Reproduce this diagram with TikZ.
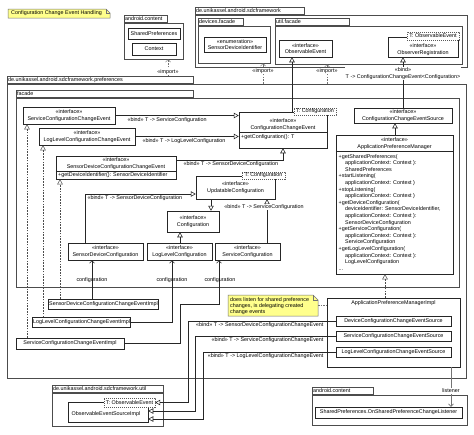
\documentclass[tikz,border=0pt]{standalone}
\usepackage{fontspec}
\setmainfont{Liberation Sans}
\usetikzlibrary{arrows.meta,shadows}
\definecolor{noteyellow}{RGB}{255,255,140}
\begin{document}
\begin{tikzpicture}[x=1pt,y=-1pt,
  font=\fontsize{5.4}{6.8}\selectfont,
  pkg/.style={draw=black!70,line width=0.5pt,fill=white,inner sep=0pt},
  pkgtab/.style={draw=black!70,line width=0.5pt,fill=white,inner sep=1.2pt,anchor=south west,minimum height=7pt,text width=#1,align=left},
  cls/.style={draw=black!85,line width=0.5pt,fill=white,inner sep=0.5pt,align=center,drop shadow={shadow xshift=0.8pt,shadow yshift=-0.8pt,fill=black!30,opacity=1}},
  tmpl/.style={draw=black!65,line width=0.4pt,dash pattern=on 1.2pt off 0.8pt,fill=white,inner sep=0.6pt},
  txt/.style={inner sep=0pt,align=center},
  lbl/.style={inner sep=0.3pt},
  wlbl/.style={inner sep=0.6pt,fill=white,align=center},
  gen/.style={draw=black!85,line width=0.55pt,-{Triangle[open,length=5pt,width=5.5pt]}},
  real/.style={draw=black!70,line width=0.5pt,dash pattern=on 1.6pt off 1.2pt,-{Triangle[open,length=5pt,width=5.5pt]}},
  dep/.style={draw=black!55,line width=0.5pt,dash pattern=on 1.6pt off 1.2pt,-{Straight Barb[length=2.5pt,width=5pt]}},
  assoc/.style={draw=black!85,line width=0.55pt,-{Straight Barb[length=2.5pt,width=5pt]}},
  notebox/.style={draw=black!55,line width=0.5pt,fill=noteyellow},
  notelink/.style={draw=black!55,line width=0.5pt,dash pattern=on 1.5pt off 1.2pt},
]
\useasboundingbox (0,0) rectangle (474,434);

% ---------- note 1
\path[notebox] (8,9) -- (106,9) -- (110,13) -- (110,18) -- (8,18) -- cycle;
\draw[black!55,line width=0.5pt] (106,9) -- (106,13) -- (110,13);
\node[txt,anchor=west] (note1) at (11,13.5) {Configuration Change Event Handling};

% ---------- android.content (top)
\node[pkg,minimum width=59pt,minimum height=36pt] (pAnd) at (153.5,41) {};
\node[pkgtab=40.6pt] (pAndTab) at (pAnd.north west) {android.content};
\node[cls,minimum width=52pt,minimum height=11pt] (cShared) at (154,33.5) {SharedPreferences};
\node[cls,minimum width=44pt,minimum height=12pt] (cContext) at (154,49) {Context};

% ---------- sdcframework
\node[pkg,minimum width=272pt,minimum height=52pt] (pSdc) at (331,41) {};
\node[pkgtab=106.6pt] (pSdcTab) at (pSdc.north west) {de.unikassel.android.sdcframework};
\node[pkg,minimum width=72pt,minimum height=37pt] (pDev) at (234,44.5) {};
\node[pkgtab=42.6pt] (pDevTab) at (pDev.north west) {devices.facade};
\node[cls,minimum width=62pt,minimum height=15pt] (cSDI) at (235,44.5) {«enumeration»\\SensorDeviceIdentifier};
\node[pkg,minimum width=187pt,minimum height=38pt] (pUtil) at (368.5,45) {};
\node[pkgtab=71.6pt] (pUtilTab) at (pUtil.north west) {util.facade};
\node[cls,minimum width=53pt,minimum height=17pt] (cObsEv) at (305.5,48.5) {«interface»\\ObservableEvent};
\node[cls,minimum width=70pt,minimum height=20pt] (cObsReg) at (423,47) {};
\node[txt] (tObsReg) at (423,49.5) {«interface»\\ObserverRegistration};
\node[tmpl,minimum width=52pt,minimum height=8pt] (tplObsReg) at (433,36) {T: ObservableEvent};

% ---------- preferences
\node[pkg,minimum width=459pt,minimum height=294pt] (pPref) at (236.5,231) {};
\node[pkgtab=183.6pt] (pPrefTab) at (pPref.north west) {de.unikassel.android.sdcframework.preferences};
\node[pkg,minimum width=443pt,minimum height=189pt] (pFac) at (237.5,192.5) {};
\node[pkgtab=174.6pt] (pFacTab) at (pFac.north west) {facade};

\node[cls,minimum width=92pt,minimum height=17pt] (cSCCE) at (69,115.5) {«interface»\\ServiceConfigurationChangeEvent};
\node[cls,minimum width=96pt,minimum height=17pt] (cLCCE) at (87,136.5) {«interface»\\LogLevelConfigurationChangeEvent};
\node[cls,minimum width=120pt,minimum height=23pt] (cSDCCE) at (116,167.5) {};
\node[txt] (tSDCCE) at (116,164) {«interface»\\SensorDeviceConfigurationChangeEvent};
\draw[black!85,line width=0.5pt] (cSDCCE.west |- 0,171) -- (cSDCCE.east |- 0,171);
\node[txt,anchor=west] (oSDCCE) at (58,175.3) {+getDeviceIdentifier(): SensorDeviceIdentifier};

\node[cls,minimum width=88pt,minimum height=36pt] (cCCE) at (283,130) {};
\node[txt] (tCCE) at (283,125) {«interface»\\ConfigurationChangeEvent};
\draw[black!85,line width=0.5pt] (cCCE.west |- 0,132) -- (cCCE.east |- 0,132);
\node[txt,anchor=west] (oCCE) at (241,137.5) {+getConfiguration(): T};
\node[tmpl,minimum width=42pt,minimum height=7pt] (tplCCE) at (315,111.5) {T: Configuration};

\node[cls,minimum width=98pt,minimum height=15pt] (cCCES) at (403,115.5) {«interface»\\ConfigurationChangeEventSource};

\node[cls,minimum width=117pt,minimum height=139pt] (cAPM) at (394.5,204.5) {};
\node[txt] (tAPM) at (394.5,144) {«interface»\\ApplicationPreferenceManager};
\draw[black!85,line width=0.5pt] (cAPM.west |- 0,151.5) -- (cAPM.east |- 0,151.5);
\node[txt,anchor=north west,align=left,font=\fontsize{5.4}{6.6}\selectfont] (lAPM) at (338.5,154) {+getSharedPreferences(\\
\hspace*{6.5pt}applicationContext: Context ):\\
\hspace*{6.5pt}SharedPreferences\\
+startListening(\\
\hspace*{6.5pt}applicationContext: Context )\\
+stopListening(\\
\hspace*{6.5pt}applicationContext: Context )\\
+getDeviceConfiguration(\\
\hspace*{6.5pt}deviceIdentifier: SensorDeviceIdentifier,\\
\hspace*{6.5pt}applicationContext: Context ):\\
\hspace*{6.5pt}SensorDeviceConfiguration\\
+getServiceConfiguration(\\
\hspace*{6.5pt}applicationContext: Context ):\\
\hspace*{6.5pt}ServiceConfiguration\\
+getLogLevelConfiguration(\\
\hspace*{6.5pt}applicationContext: Context ):\\
\hspace*{6.5pt}LogLevelConfiguration\\
...};

\node[cls,minimum width=79pt,minimum height=23pt] (cUpd) at (235.5,187.5) {«interface»\\UpdatableConfiguration};
\node[tmpl,minimum width=43pt,minimum height=7pt] (tplUpd) at (263.5,175.5) {T: Configuration};
\node[cls,minimum width=52pt,minimum height=21pt] (cConf) at (193,221.5) {«interface»\\Configuration};
\node[cls,minimum width=75pt,minimum height=17pt] (cSDC) at (105.5,251.5) {«interface»\\SensorDeviceConfiguration};
\node[cls,minimum width=65pt,minimum height=17pt] (cLLC) at (179.5,251.5) {«interface»\\LogLevelConfiguration};
\node[cls,minimum width=65pt,minimum height=17pt] (cSC) at (247.5,251.5) {«interface»\\ServiceConfiguration};

\node[cls,minimum width=107pt,minimum height=10pt] (cSDImpl) at (103.5,304) {SensorDeviceConfigurationChangeEventImpl};
\node[cls,minimum width=97pt,minimum height=10pt] (cLLImpl) at (81.5,322.5) {LogLevelConfigurationChangeEventImpl};
\node[cls,minimum width=108pt,minimum height=11pt] (cSCImpl) at (70,343.5) {ServiceConfigurationChangeEventImpl};

\node[cls,minimum width=133pt,minimum height=69pt] (cAPMImpl) at (393.5,332.5) {};
\node[txt] (tAPMImpl) at (393.5,303.5) {ApplicationPreferenceManagerImpl};
\node[cls,minimum width=115pt,minimum height=10pt] (cDS) at (393.5,321) {DeviceConfigurationChangeEventSource};
\node[cls,minimum width=115pt,minimum height=10pt] (cSS) at (393.5,336) {ServiceConfigurationChangeEventSource};
\node[cls,minimum width=115pt,minimum height=10pt] (cLS) at (393.5,352) {LogLevelConfigurationChangeEventSource};

% ---------- note 2
\path[notebox] (228,295) -- (313,295) -- (318,300) -- (318,316) -- (228,316) -- cycle;
\draw[black!55,line width=0.5pt] (313,295) -- (313,300) -- (318,300);
\node[txt,anchor=north west,align=left,font=\fontsize{5.4}{6.2}\selectfont] (note2) at (230,297) {does listen for shared preference\\changes, is delegating created\\change events};

% ---------- util (bottom)
\node[pkg,minimum width=111pt,minimum height=33pt] (pUtil2) at (107.5,409.5) {};
\node[pkgtab=108.6pt] (pUtil2Tab) at (pUtil2.north west) {de.unikassel.android.sdcframework.util};
\node[cls,minimum width=80pt,minimum height=20pt] (cOESI) at (108,412) {};
\node[txt] (tOESI) at (106,414) {ObservableEventSourceImpl};
\node[tmpl,minimum width=51pt,minimum height=9pt] (tplOESI) at (129.5,402.5) {T: ObservableEvent};

% ---------- android.content (bottom)
\node[pkg,minimum width=155pt,minimum height=30pt] (pAnd2) at (389.5,410) {};
\node[pkgtab=58.6pt] (pAnd2Tab) at (pAnd2.north west) {android.content};
\node[cls,minimum width=147pt,minimum height=11pt] (cListener) at (388.5,412.5) {SharedPreferences.OnSharedPreferenceChangeListener};

% ---------- helper coordinates
\coordinate (xA) at (168,0);
\coordinate (xB) at (263,0);
\coordinate (xC) at (327,0);
\coordinate (xD) at (292,0);
\coordinate (xF) at (283,0);
\coordinate (xG) at (85,0);
\coordinate (xI) at (267,0);
\coordinate (xJ) at (211,0);
\coordinate (xK) at (180,0);
\coordinate (xL) at (395,0);
\coordinate (xM) at (385,0);
\coordinate (xN) at (27,0);
\coordinate (xO) at (43,0);
\coordinate (xP) at (60,0);
\coordinate (xQ) at (92,0);
\coordinate (xR) at (172,0);
\coordinate (cornS) at (180,304);
\coordinate (xU) at (219,0);
\coordinate (xV) at (188,0);
\coordinate (xW) at (195,0);
\coordinate (xX) at (203,0);
\coordinate (xY) at (451,0);
\coordinate (n2e) at (318,305);
\coordinate (sdOut) at ([yshift=7.5pt]cSDCCE.east);
\coordinate (updIn) at ([yshift=-6.5pt]cUpd.west);
\coordinate (oe2) at ([yshift=1pt]cOESI.east);
\coordinate (oe3) at ([yshift=-7pt]cOESI.east);

% ---------- imports
\draw[dep] (pPrefTab.north -| xA) -- (pAnd.south -| xA);
\draw[dep] (pPref.north -| xB) -- (pDev.south -| xB);
\draw[dep] (pPref.north -| xC) -- (pUtil.south -| xC);
\node[wlbl] (li1) at (168,72) {«import»};
\node[wlbl] (li2) at (263,71) {«import»};
\node[wlbl] (li3) at (327,71) {«import»};

% ---------- generalizations / binds
\draw[gen] (cCCE.north -| xD) -- (cObsEv.south -| xD);
\draw[gen] (cCCES.north) -- (cObsReg.south -| cCCES.north);
\node[wlbl,font=\fontsize{5.4}{6.6}\selectfont] (lbReg) at (403,73.5) {«bind»\\T -> ConfigurationChangeEvent<Configuration>};

\draw[gen] (cSCCE.east) -- (cCCE.west |- cSCCE.east);
\node[lbl,anchor=west] (lb1) at (127,120.5) {«bind» T -> ServiceConfiguration};
\draw[gen] (cLCCE.east) -- (cCCE.west |- cLCCE.east);
\node[lbl,anchor=west] (lb2) at (142,141.5) {«bind» T -> LogLevelConfiguration};
\draw[gen] (sdOut) -| (cCCE.south -| xF);
\node[lbl,anchor=west] (lb3) at (183,164.5) {«bind» T -> SensorDeviceConfiguration};

\draw[gen] (cSDC.north -| xG) |- (updIn);
\node[lbl,anchor=west] (lb4) at (87,198.5) {«bind» T -> SensorDeviceConfiguration};
\draw[gen] (cSC.north -| xI) -- (cUpd.south -| xI);
\node[wlbl] (lb5) at (264,207) {«bind» T -> ServiceConfiguration};
\draw[gen] (cUpd.south -| xJ) -- (cConf.north -| xJ);
\draw[gen] (cLLC.north -| xK) -- (cConf.south -| xK);
\draw[gen] (cAPM.north -| xL) -- (cCCES.south -| xL);
\draw[real] (cAPMImpl.north -| xM) -- (cAPM.south -| xM);
\draw[notelink] (n2e) -- (cAPMImpl.west |- n2e);

% ---------- realizations of the change events
\draw[real] (cSCImpl.north -| xN) -- (cSCCE.south -| xN);
\draw[real] (cLLImpl.north -| xO) -- (cLCCE.south -| xO);
\draw[real] (cSDImpl.north -| xP) -- (cSDCCE.south -| xP);

% ---------- configuration associations
\draw[assoc] (cSDImpl.north -| xQ) -- (cSDC.south -| xQ);
\draw[assoc] (cLLImpl.east) -| (cLLC.south -| xR);
\draw[assoc] (cSCImpl.east) -| (cornS) -| (cSC.south -| xU);
\node[lbl] (lc1) at (92,280) {configuration};
\node[lbl] (lc2) at (172,280) {configuration};
\node[lbl] (lc3) at (220,280) {configuration};

% ---------- event sources bind ObservableEventSourceImpl
\draw[gen] (cDS.west) -| (tplOESI.east -| xV) -- (tplOESI.east);
\draw[gen] (cSS.west) -| (oe2 -| xW) -- (oe2);
\draw[gen] (cLS.west) -| (oe3 -| xX) -- (oe3);
\node[lbl,anchor=north east] (lb6) at (324,322.5) {«bind» T -> SensorDeviceConfigurationChangeEvent};
\node[lbl,anchor=north east] (lb7) at (324,337.5) {«bind» T -> ServiceConfigurationChangeEvent};
\node[lbl,anchor=north east] (lb8) at (324,353.5) {«bind» T -> LogLevelConfigurationChangeEvent};

% ---------- listener
\draw[assoc,draw=black!55] (cAPMImpl.south -| xY) -- (cListener.north -| xY);
\node[wlbl] (lListener) at (451,391) {listener};
\end{tikzpicture}
\end{document}
